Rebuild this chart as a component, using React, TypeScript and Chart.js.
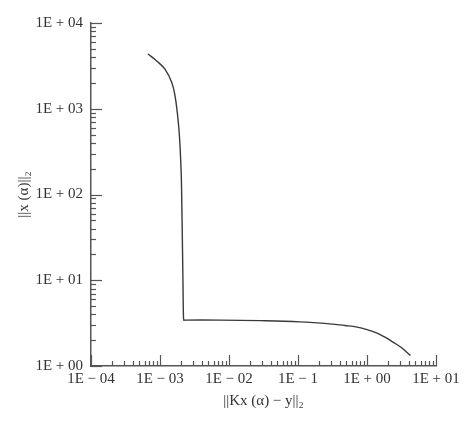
import React, { useEffect, useRef } from 'react';
import { Chart, registerables } from 'chart.js';

Chart.register(...registerables);

// L-curve data: residual norm (x) vs solution norm (y)
// Steep branch (small residual, large solution norm) down to the corner
const steepResidual = [
  6.76e-4, 8.95e-4, 1.18e-3, 1.48e-3, 1.65e-3, 1.78e-3, 1.88e-3, 1.95e-3, 2.0e-3, 2.04e-3,
  2.06e-3, 2.11e-3, 2.15e-3, 2.19e-3, 2.22e-3,
];
const steepSolution = [
  4325, 3614, 2891, 2023, 1416, 906, 581, 371, 238, 153,
  102, 29.2, 10, 3.62, 3.43,
];
// Flat branch from the corner to large residuals
const flatResidual = [2.22e-3, 7.41e-3, 0.0281, 0.107, 0.32, 0.48, 0.72, 1.0, 1.4, 1.82, 2.38, 3.21, 4.2];
const flatSolution = [3.43, 3.43, 3.38, 3.27, 3.08, 2.97, 2.84, 2.66, 2.42, 2.17, 1.9, 1.62, 1.34];

const xTickValues = [1e-4, 1e-3, 1e-2, 1e-1, 1, 10];
const xTickLabels = ['1E − 04', '1E − 03', '1E − 02', '1E − 1', '1E + 00', '1E + 01'];
const yTickValues = [1, 10, 100, 1000, 10000];
const yTickLabels = ['1E + 00', '1E + 01', '1E + 02', '1E + 03', '1E + 04'];

const xTitle = '||Kx (α) − y||₂';
const yTitle = '||x (α)||₂';

const AXIS_COLOR = '#555';
const TEXT_COLOR = '#333';
const LINE_COLOR = '#3a3a3a';
const FONT_FAMILY = '"Liberation Serif", "DejaVu Serif", serif';

const innerTicksPlugin = {
  id: 'innerTicks',
  afterDraw(chart: any) {
    const ctx = chart.ctx;
    const xs = chart.scales.x;
    const ys = chart.scales.y;
    const logTicks = (min: number, max: number) => {
      const out: [number, boolean][] = [];
      for (let e = Math.floor(Math.log10(min)); e <= Math.ceil(Math.log10(max)); e++) {
        for (let k = 1; k <= 9; k++) {
          const v = k * Math.pow(10, e);
          if (v >= min * 0.999 && v <= max * 1.001) out.push([v, k === 1]);
        }
      }
      return out;
    };
    ctx.save();
    ctx.strokeStyle = AXIS_COLOR;
    ctx.lineWidth = 1.2;
    for (const [v, major] of logTicks(xs.min, xs.max)) {
      const px = Math.round(xs.getPixelForValue(v)) + 0.5;
      const len = major ? 11 : 5;
      ctx.beginPath();
      ctx.moveTo(px, xs.top);
      ctx.lineTo(px, xs.top - len);
      ctx.stroke();
    }
    for (const [v, major] of logTicks(ys.min, ys.max)) {
      const py = Math.round(ys.getPixelForValue(v)) + 0.5;
      const len = major ? 11 : 5;
      ctx.beginPath();
      ctx.moveTo(ys.right, py);
      ctx.lineTo(ys.right + len, py);
      ctx.stroke();
    }
    ctx.restore();
  },
};

const lineStyle = {
  showLine: true,
  borderColor: LINE_COLOR,
  borderWidth: 1.4,
  borderJoinStyle: 'round',
  borderCapStyle: 'round',
  pointRadius: 0,
  tension: 0.4,
  fill: false,
};

export default function App() {
  const canvasRef = useRef<HTMLCanvasElement | null>(null);

  useEffect(() => {
    if (!canvasRef.current) return;
    const steep = steepResidual.map((x, i) => ({ x, y: steepSolution[i] }));
    const flat = flatResidual.map((x, i) => ({ x, y: flatSolution[i] }));
    const chart = new Chart(canvasRef.current, {
      type: 'scatter',
      data: {
        datasets: [
          { ...lineStyle, data: steep },
          { ...lineStyle, data: flat },
        ],
      },
      plugins: [innerTicksPlugin],
      options: {
        animation: false,
        responsive: true,
        maintainAspectRatio: false,
        layout: { padding: { top: 23, right: 38, left: 0, bottom: 0 } },
        plugins: { legend: { display: false }, tooltip: { enabled: false } },
        scales: {
          x: {
            type: 'logarithmic',
            min: 1e-4,
            max: 10,
            afterBuildTicks: (scale: any) => {
              scale.ticks = xTickValues.map((v) => ({ value: v }));
            },
            afterFit: (scale: any) => {
              scale.height = 59;
            },
            grid: { display: false, drawTicks: false },
            border: { display: true, color: AXIS_COLOR, width: 1.5 },
            ticks: {
              autoSkip: false,
              maxRotation: 0,
              padding: 4,
              color: TEXT_COLOR,
              font: { family: FONT_FAMILY, size: 15 },
              callback: (_v: any, i: number) => xTickLabels[i],
            },
            title: {
              display: true,
              text: xTitle,
              color: TEXT_COLOR,
              font: { family: FONT_FAMILY, size: 15 },
              padding: { top: 0, bottom: 15 },
            },
          },
          y: {
            type: 'logarithmic',
            min: 1,
            max: 10000,
            afterBuildTicks: (scale: any) => {
              scale.ticks = yTickValues.map((v) => ({ value: v }));
            },
            afterFit: (scale: any) => {
              scale.width = 91;
            },
            grid: { display: false, drawTicks: false },
            border: { display: true, color: AXIS_COLOR, width: 1.5 },
            ticks: {
              autoSkip: false,
              padding: 8,
              color: TEXT_COLOR,
              font: { family: FONT_FAMILY, size: 15 },
              callback: (_v: any, i: number) => yTickLabels[i],
            },
            title: {
              display: true,
              text: yTitle,
              color: TEXT_COLOR,
              font: { family: FONT_FAMILY, size: 15 },
              padding: { top: 15, bottom: 0 },
            },
          },
        },
      },
    } as any);
    return () => chart.destroy();
  }, []);

  return (
    <div style={{ position: 'fixed', left: 0, top: 0, width: 474, height: 425, background: '#fff' }}>
      <canvas ref={canvasRef} />
    </div>
  );
}
